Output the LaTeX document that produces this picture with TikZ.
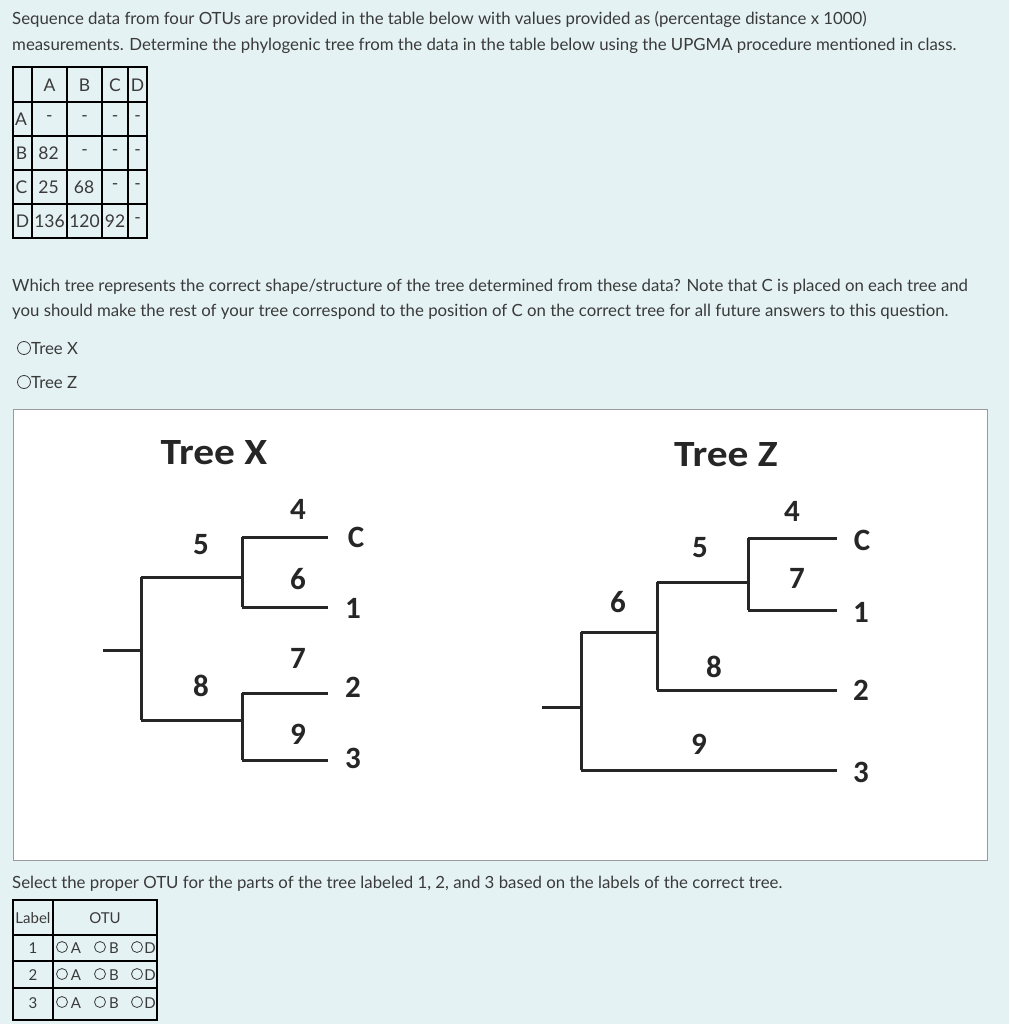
\documentclass[tikz,border=0pt]{standalone}
\usepackage{fontspec}
\setmainfont{Lato}
\newfontfamily\treefont{Carlito}
\newfontfamily\titlefont[FakeStretch=1.12]{Carlito}
\definecolor{bg}{HTML}{E5F2F3}
\definecolor{txt}{HTML}{3A3A3A}
\definecolor{frame}{HTML}{9A9A9A}
\begin{document}
\begin{tikzpicture}[x=1pt,y=-1pt,
  body/.style={font=\fontsize{16.8}{20}\selectfont, text=txt, inner sep=0pt, anchor=base west},
  cell/.style={font=\fontsize{17.5}{20}\selectfont, text=txt, inner sep=0pt, anchor=center},
  small/.style={font=\fontsize{15}{17}\selectfont, text=txt, inner sep=0pt, anchor=center},
  grid/.style={draw=black, line width=1.4pt},
  radio/.style={draw=txt, line width=0.8pt},
  branch/.style={draw=black!85, line width=3pt, line cap=square, line join=miter},
  ttitle/.style={font=\titlefont\bfseries\fontsize{37}{42}\selectfont, text=black!85, inner sep=0pt, anchor=center},
  tlab/.style={font=\treefont\bfseries\fontsize{31}{35}\selectfont, text=black!85, inner sep=0pt, anchor=center}]
\path[fill=bg] (0,0) rectangle (1009,1024);
\useasboundingbox (0,0) rectangle (1009,1024);

% intro text
\node[body] (t1) at (12,25) {Sequence data from four OTUs are provided in the table below with values provided as (percentage distance x 1000)};
\node[body] (t2) at (12,51) {measurements. Determine the phylogenic tree from the data in the table below using the UPGMA procedure mentioned in class.};

% distance table
\draw[grid, line width=2pt] (13,67) rectangle (147,238);
\foreach \xx in {32,67,102,128} \draw[grid] (\xx,67) -- (\xx,238);
\foreach \yy in {102,136,170,204} \draw[grid] (13,\yy) -- (147,\yy);
\node[cell] (hA) at (49.5,85) {A};
\node[cell] (hB) at (84.5,85) {B};
\node[cell] (hC) at (115,85) {C};
\node[cell] (hD) at (137.5,85) {D};
\node[cell] (rA) at (21,119) {A};
\node[cell] (rB) at (21.5,153) {B};
\node[cell] (rC) at (21.5,187) {C};
\node[cell] (rD) at (22.5,221) {D};
\node[cell] (aa) at (49.5,119) {-};
\node[cell] (ab) at (84.5,119) {-};
\node[cell] (ac) at (115,119) {-};
\node[cell] (ad) at (137.5,119) {-};
\node[cell] (ba) at (48.5,153) {82};
\node[cell] (bb) at (84.5,153) {-};
\node[cell] (bc) at (115,153) {-};
\node[cell] (bd) at (137.5,153) {-};
\node[cell] (ca) at (48.5,187) {25};
\node[cell] (cb) at (84,187) {68};
\node[cell] (cc) at (115,187) {-};
\node[cell] (cd) at (137.5,187) {-};
\node[cell] (da) at (49.5,221) {136};
\node[cell] (db) at (84.5,221) {120};
\node[cell] (dc) at (115,221) {92};
\node[cell] (dd) at (137.5,221) {-};

% question
\node[body] (q1) at (12,291) {Which tree represents the correct shape/structure of the tree determined from these data? Note that C is placed on each tree and};
\node[body] (q2) at (12,316) {you should make the rest of your tree correspond to the position of C on the correct tree for all future answers to this question.};
\draw[radio] (24,348) circle (6.5);
\node[body] (ox) at (31,354) {Tree X};
\draw[radio] (24,382) circle (6.5);
\node[body] (oz) at (31,388) {Tree Z};

% figure
\draw[fill=white, draw=frame, line width=1pt] (13,409) rectangle (987,860);

% Tree X
\node[ttitle] (titleX) at (214,453) {Tree X};
\coordinate (xr0) at (103,650);
\coordinate (xr) at (141,650);
\coordinate (xa) at (141,577);
\coordinate (xb) at (141,720);
\coordinate (xn1a) at (242,537);
\coordinate (xn1b) at (242,607);
\coordinate (xn2a) at (242,693);
\coordinate (xn2b) at (242,760);
\coordinate (xC) at (328,537);
\coordinate (x1) at (328,607);
\coordinate (x2) at (328,693);
\coordinate (x3) at (328,760);
\draw[branch] (xr0) -- (xr);
\draw[branch] (xa) -- (xb);
\draw[branch] (xa) -- (xn1a |- xa);
\draw[branch] (xb) -- (xn2a |- xb);
\draw[branch] (xn1a) -- (xn1b);
\draw[branch] (xn2a) -- (xn2b);
\draw[branch] (xn1a) -- (xC);
\draw[branch] (xn1b) -- (x1);
\draw[branch] (xn2a) -- (x2);
\draw[branch] (xn2b) -- (x3);
\node[tlab] (xl4) at (298,509) {4};
\node[tlab] (xlC) at (356,537) {C};
\node[tlab] (xl5) at (201,545) {5};
\node[tlab] (xl6) at (298,579) {6};
\node[tlab] (xl1) at (353,608) {1};
\node[tlab] (xl7) at (298,658) {7};
\node[tlab] (xl8) at (201,686) {8};
\node[tlab] (xl2) at (353,687) {2};
\node[tlab] (xl9) at (298,734) {9};
\node[tlab] (xl3) at (353,758) {3};

% Tree Z
\node[ttitle] (titleZ) at (726,455) {Tree Z};
\coordinate (zr0) at (542,707);
\coordinate (zr) at (581,707);
\coordinate (za) at (581,632);
\coordinate (zb) at (581,770);
\coordinate (zm1) at (657,582);
\coordinate (zm2) at (657,690);
\coordinate (zn1) at (748,538);
\coordinate (zn2) at (748,610);
\coordinate (zC) at (837,538);
\coordinate (z1) at (837,610);
\coordinate (z2) at (837,690);
\coordinate (z3) at (837,770);
\draw[branch] (zr0) -- (zr);
\draw[branch] (za) -- (zb);
\draw[branch] (za) -- (zm1 |- za);
\draw[branch] (zm1) -- (zm2);
\draw[branch] (zm1) -- (zn1 |- zm1);
\draw[branch] (zn1) -- (zn2);
\draw[branch] (zn1) -- (zC);
\draw[branch] (zn2) -- (z1);
\draw[branch] (zm2) -- (z2);
\draw[branch] (zb) -- (z3);
\node[tlab] (zl4) at (792,511) {4};
\node[tlab] (zlC) at (862,540) {C};
\node[tlab] (zl5) at (700,548) {5};
\node[tlab] (zl7) at (797,578) {7};
\node[tlab] (zl1) at (861,612) {1};
\node[tlab] (zl6) at (618,602) {6};
\node[tlab] (zl8) at (714,667) {8};
\node[tlab] (zl2) at (861,690) {2};
\node[tlab] (zl9) at (699,744) {9};
\node[tlab] (zl3) at (861,772) {3};

% select text
\node[body] (s1) at (12,888) {Select the proper OTU for the parts of the tree labeled 1, 2, and 3 based on the labels of the correct tree.};

% answer table
\draw[grid, line width=2pt] (13,900) rectangle (157,1020);
\draw[grid] (53,900) -- (53,1020);
\foreach \yy in {935,961,988} \draw[grid] (13,\yy) -- (157,\yy);
\node[small] (lab) at (33,918) {Label};
\node[small] (otu) at (105,918) {OTU};
\foreach \r/\yy in {1/948,2/975,3/1003} {
  \node[small] (n\r) at (33,\yy) {\r};
  \draw[radio] (62,\yy-1) circle (5.5);
  \node[small] (a\r) at (76,\yy) {A};
  \draw[radio] (100,\yy-1) circle (5.5);
  \node[small] (b\r) at (114,\yy) {B};
  \draw[radio] (137,\yy-1) circle (5.5);
  \node[small] (d\r) at (150,\yy) {D};
}
\end{tikzpicture}
\end{document}
